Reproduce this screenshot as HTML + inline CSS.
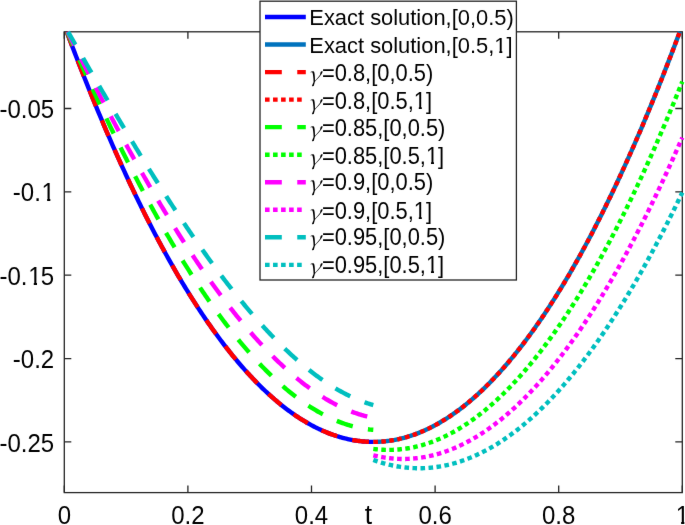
<!DOCTYPE html>
<html><head><meta charset="utf-8"><title>plot</title>
<style>html,body{margin:0;padding:0;background:#fff;}body{width:685px;height:525px;overflow:hidden;}svg{display:block;}</style>
</head><body>
<svg width="685" height="525" viewBox="0 0 685 525">
<defs><filter id="bl" x="0" y="0" width="685" height="525" filterUnits="userSpaceOnUse" color-interpolation-filters="sRGB"><feConvolveMatrix order="3" kernelMatrix="3 59 3 59 1000 59 3 59 3" divisor="1248" edgeMode="duplicate"/></filter></defs>
<g filter="url(#bl)">
<rect width="685" height="525" fill="#fff"/>
<path d="M64.30,492.6 V485.60 M64.30,31.8 V38.80 M187.90,492.6 V485.60 M187.90,31.8 V38.80 M311.50,492.6 V485.60 M311.50,31.8 V38.80 M435.10,492.6 V485.60 M435.10,31.8 V38.80 M558.70,492.6 V485.60 M558.70,31.8 V38.80 M682.30,492.6 V485.60 M682.30,31.8 V38.80 M64.3,108.50 H71.30 M682.3,108.50 H675.30 M64.3,191.85 H71.30 M682.3,191.85 H675.30 M64.3,275.20 H71.30 M682.3,275.20 H675.30 M64.3,358.55 H71.30 M682.3,358.55 H675.30 M64.3,441.90 H71.30 M682.3,441.90 H675.30" stroke="#262626" stroke-width="1.3" fill="none"/>
<rect x="64.3" y="31.8" width="618.0" height="460.8" fill="none" stroke="#262626" stroke-width="1.3"/>
<g fill="none" stroke-width="4.40" stroke-linejoin="round">
<path d="M66.78,31.80 L68.06,35.22 L69.34,38.63 L70.62,42.03 L71.91,45.41 L73.19,48.78 L74.47,52.13 L75.75,55.47 L77.04,58.79 L78.32,62.10 L79.60,65.40 L80.88,68.68 L82.17,71.95 L83.45,75.20 L84.73,78.44 L86.01,81.66 L87.30,84.87 L88.58,88.07 L89.86,91.25 L91.14,94.41 L92.43,97.56 L93.71,100.70 L94.99,103.82 L96.27,106.93 L97.56,110.03 L98.84,113.11 L100.12,116.17 L101.40,119.22 L102.69,122.26 L103.97,125.28 L105.25,128.29 L106.53,131.29 L107.82,134.27 L109.10,137.23 L110.38,140.18 L111.66,143.12 L112.95,146.04 L114.23,148.95 L115.51,151.84 L116.79,154.72 L118.08,157.58 L119.36,160.44 L120.64,163.27 L121.92,166.09 L123.21,168.90 L124.49,171.69 L125.77,174.47 L127.05,177.24 L128.34,179.98 L129.62,182.72 L130.90,185.44 L132.18,188.15 L133.47,190.84 L134.75,193.52 L136.03,196.18 L137.31,198.83 L138.60,201.47 L139.88,204.09 L141.16,206.69 L142.44,209.28 L143.73,211.86 L145.01,214.42 L146.29,216.97 L147.57,219.51 L148.86,222.03 L150.14,224.53 L151.42,227.02 L152.70,229.50 L153.99,231.96 L155.27,234.41 L156.55,236.85 L157.83,239.27 L159.12,241.67 L160.40,244.06 L161.68,246.44 L162.97,248.80 L164.25,251.15 L165.53,253.48 L166.81,255.80 L168.10,258.10 L169.38,260.40 L170.66,262.67 L171.94,264.93 L173.23,267.18 L174.51,269.41 L175.79,271.63 L177.07,273.84 L178.36,276.02 L179.64,278.20 L180.92,280.36 L182.20,282.51 L183.49,284.64 L184.77,286.76 L186.05,288.86 L187.33,290.95 L188.62,293.03 L189.90,295.09 L191.18,297.13 L192.46,299.16 L193.75,301.18 L195.03,303.18 L196.31,305.17 L197.59,307.15 L198.88,309.11 L200.16,311.05 L201.44,312.98 L202.72,314.90 L204.01,316.80 L205.29,318.69 L206.57,320.57 L207.85,322.43 L209.14,324.27 L210.42,326.10 L211.70,327.92 L212.98,329.72 L214.27,331.51 L215.55,333.28 L216.83,335.04 L218.11,336.78 L219.40,338.52 L220.68,340.23 L221.96,341.93 L223.24,343.62 L224.53,345.29 L225.81,346.95 L227.09,348.60 L228.37,350.23 L229.66,351.84 L230.94,353.44 L232.22,355.03 L233.50,356.60 L234.79,358.16 L236.07,359.70 L237.35,361.23 L238.63,362.75 L239.92,364.25 L241.20,365.73 L242.48,367.20 L243.76,368.66 L245.05,370.11 L246.33,371.53 L247.61,372.95 L248.89,374.35 L250.18,375.73 L251.46,377.11 L252.74,378.46 L254.02,379.80 L255.31,381.13 L256.59,382.45 L257.87,383.75 L259.15,385.03 L260.44,386.30 L261.72,387.56 L263.00,388.80 L264.28,390.03 L265.57,391.24 L266.85,392.44 L268.13,393.63 L269.42,394.80 L270.70,395.95 L271.98,397.09 L273.26,398.22 L274.55,399.33 L275.83,400.43 L277.11,401.52 L278.39,402.59 L279.68,403.64 L280.96,404.68 L282.24,405.71 L283.52,406.72 L284.81,407.72 L286.09,408.70 L287.37,409.67 L288.65,410.63 L289.94,411.57 L291.22,412.49 L292.50,413.40 L293.78,414.30 L295.07,415.19 L296.35,416.05 L297.63,416.91 L298.91,417.75 L300.20,418.57 L301.48,419.39 L302.76,420.18 L304.04,420.96 L305.33,421.73 L306.61,422.49 L307.89,423.23 L309.17,423.95 L310.46,424.66 L311.74,425.36 L313.02,426.04 L314.30,426.71 L315.59,427.36 L316.87,428.00 L318.15,428.63 L319.43,429.24 L320.72,429.83 L322.00,430.41 L323.28,430.98 L324.56,431.53 L325.85,432.07 L327.13,432.60 L328.41,433.11 L329.69,433.60 L330.98,434.08 L332.26,434.55 L333.54,435.00 L334.82,435.44 L336.11,435.86 L337.39,436.27 L338.67,436.67 L339.95,437.05 L341.24,437.41 L342.52,437.76 L343.80,438.10 L345.08,438.43 L346.37,438.73 L347.65,439.03 L348.93,439.31 L350.21,439.57 L351.50,439.83 L352.78,440.06 L354.06,440.28 L355.34,440.49 L356.63,440.69 L357.91,440.87 L359.19,441.03 L360.47,441.18 L361.76,441.32 L363.04,441.44 L364.32,441.55 L365.60,441.64 L366.89,441.72 L368.17,441.79 L369.45,441.84 L370.73,441.87 L372.02,441.89 L373.30,441.90" stroke="#0000ff"/>
<path d="M373.30,441.90 L374.58,441.89 L375.87,441.87 L377.15,441.84 L378.43,441.79 L379.71,441.72 L381.00,441.64 L382.28,441.55 L383.56,441.44 L384.84,441.32 L386.13,441.18 L387.41,441.03 L388.69,440.87 L389.97,440.69 L391.26,440.49 L392.54,440.28 L393.82,440.06 L395.10,439.83 L396.39,439.57 L397.67,439.31 L398.95,439.03 L400.23,438.73 L401.52,438.43 L402.80,438.10 L404.08,437.76 L405.36,437.41 L406.65,437.05 L407.93,436.67 L409.21,436.27 L410.49,435.86 L411.78,435.44 L413.06,435.00 L414.34,434.55 L415.62,434.08 L416.91,433.60 L418.19,433.11 L419.47,432.60 L420.75,432.07 L422.04,431.53 L423.32,430.98 L424.60,430.41 L425.88,429.83 L427.17,429.24 L428.45,428.63 L429.73,428.00 L431.01,427.36 L432.30,426.71 L433.58,426.04 L434.86,425.36 L436.14,424.66 L437.43,423.95 L438.71,423.23 L439.99,422.49 L441.27,421.73 L442.56,420.96 L443.84,420.18 L445.12,419.39 L446.40,418.57 L447.69,417.75 L448.97,416.91 L450.25,416.05 L451.53,415.19 L452.82,414.30 L454.10,413.40 L455.38,412.49 L456.66,411.57 L457.95,410.63 L459.23,409.67 L460.51,408.70 L461.79,407.72 L463.08,406.72 L464.36,405.71 L465.64,404.68 L466.92,403.64 L468.21,402.59 L469.49,401.52 L470.77,400.43 L472.05,399.33 L473.34,398.22 L474.62,397.09 L475.90,395.95 L477.18,394.80 L478.47,393.63 L479.75,392.44 L481.03,391.24 L482.32,390.03 L483.60,388.80 L484.88,387.56 L486.16,386.30 L487.45,385.03 L488.73,383.75 L490.01,382.45 L491.29,381.13 L492.58,379.80 L493.86,378.46 L495.14,377.11 L496.42,375.73 L497.71,374.35 L498.99,372.95 L500.27,371.53 L501.55,370.11 L502.84,368.66 L504.12,367.20 L505.40,365.73 L506.68,364.25 L507.97,362.75 L509.25,361.23 L510.53,359.70 L511.81,358.16 L513.10,356.60 L514.38,355.03 L515.66,353.44 L516.94,351.84 L518.23,350.23 L519.51,348.60 L520.79,346.95 L522.07,345.29 L523.36,343.62 L524.64,341.93 L525.92,340.23 L527.20,338.52 L528.49,336.78 L529.77,335.04 L531.05,333.28 L532.33,331.51 L533.62,329.72 L534.90,327.92 L536.18,326.10 L537.46,324.27 L538.75,322.43 L540.03,320.57 L541.31,318.69 L542.59,316.80 L543.88,314.90 L545.16,312.98 L546.44,311.05 L547.72,309.11 L549.01,307.15 L550.29,305.17 L551.57,303.18 L552.85,301.18 L554.14,299.16 L555.42,297.13 L556.70,295.09 L557.98,293.03 L559.27,290.95 L560.55,288.86 L561.83,286.76 L563.11,284.64 L564.40,282.51 L565.68,280.36 L566.96,278.20 L568.24,276.02 L569.53,273.84 L570.81,271.63 L572.09,269.41 L573.37,267.18 L574.66,264.93 L575.94,262.67 L577.22,260.40 L578.50,258.10 L579.79,255.80 L581.07,253.48 L582.35,251.15 L583.63,248.80 L584.92,246.44 L586.20,244.06 L587.48,241.67 L588.77,239.27 L590.05,236.85 L591.33,234.41 L592.61,231.96 L593.90,229.50 L595.18,227.02 L596.46,224.53 L597.74,222.03 L599.03,219.51 L600.31,216.97 L601.59,214.42 L602.87,211.86 L604.16,209.28 L605.44,206.69 L606.72,204.09 L608.00,201.47 L609.29,198.83 L610.57,196.18 L611.85,193.52 L613.13,190.84 L614.42,188.15 L615.70,185.44 L616.98,182.72 L618.26,179.98 L619.55,177.24 L620.83,174.47 L622.11,171.69 L623.39,168.90 L624.68,166.09 L625.96,163.27 L627.24,160.44 L628.52,157.58 L629.81,154.72 L631.09,151.84 L632.37,148.95 L633.65,146.04 L634.94,143.12 L636.22,140.18 L637.50,137.23 L638.78,134.27 L640.07,131.29 L641.35,128.29 L642.63,125.28 L643.91,122.26 L645.20,119.22 L646.48,116.17 L647.76,113.11 L649.04,110.03 L650.33,106.93 L651.61,103.82 L652.89,100.70 L654.17,97.56 L655.46,94.41 L656.74,91.25 L658.02,88.07 L659.30,84.87 L660.59,81.66 L661.87,78.44 L663.15,75.20 L664.43,71.95 L665.72,68.68 L667.00,65.40 L668.28,62.10 L669.56,58.79 L670.85,55.47 L672.13,52.13 L673.41,48.78 L674.69,45.41 L675.98,42.03 L677.26,38.63 L678.54,35.22 L679.82,31.80" stroke="#0072bd"/>
<path d="M66.78,31.80 L68.06,35.22 L69.34,38.63 L70.62,42.03 L71.91,45.41 L73.19,48.78 L74.47,52.13 L75.75,55.47 L77.04,58.79 L78.32,62.10 L79.60,65.40 L80.88,68.68 L82.17,71.95 L83.45,75.20 L84.73,78.44 L86.01,81.66 L87.30,84.87 L88.58,88.07 L89.86,91.25 L91.14,94.41 L92.43,97.56 L93.71,100.70 L94.99,103.82 L96.27,106.93 L97.56,110.03 L98.84,113.11 L100.12,116.17 L101.40,119.22 L102.69,122.26 L103.97,125.28 L105.25,128.29 L106.53,131.29 L107.82,134.27 L109.10,137.23 L110.38,140.18 L111.66,143.12 L112.95,146.04 L114.23,148.95 L115.51,151.84 L116.79,154.72 L118.08,157.58 L119.36,160.44 L120.64,163.27 L121.92,166.09 L123.21,168.90 L124.49,171.69 L125.77,174.47 L127.05,177.24 L128.34,179.98 L129.62,182.72 L130.90,185.44 L132.18,188.15 L133.47,190.84 L134.75,193.52 L136.03,196.18 L137.31,198.83 L138.60,201.47 L139.88,204.09 L141.16,206.69 L142.44,209.28 L143.73,211.86 L145.01,214.42 L146.29,216.97 L147.57,219.51 L148.86,222.03 L150.14,224.53 L151.42,227.02 L152.70,229.50 L153.99,231.96 L155.27,234.41 L156.55,236.85 L157.83,239.27 L159.12,241.67 L160.40,244.06 L161.68,246.44 L162.97,248.80 L164.25,251.15 L165.53,253.48 L166.81,255.80 L168.10,258.10 L169.38,260.40 L170.66,262.67 L171.94,264.93 L173.23,267.18 L174.51,269.41 L175.79,271.63 L177.07,273.84 L178.36,276.02 L179.64,278.20 L180.92,280.36 L182.20,282.51 L183.49,284.64 L184.77,286.76 L186.05,288.86 L187.33,290.95 L188.62,293.03 L189.90,295.09 L191.18,297.13 L192.46,299.16 L193.75,301.18 L195.03,303.18 L196.31,305.17 L197.59,307.15 L198.88,309.11 L200.16,311.05 L201.44,312.98 L202.72,314.90 L204.01,316.80 L205.29,318.69 L206.57,320.57 L207.85,322.43 L209.14,324.27 L210.42,326.10 L211.70,327.92 L212.98,329.72 L214.27,331.51 L215.55,333.28 L216.83,335.04 L218.11,336.78 L219.40,338.52 L220.68,340.23 L221.96,341.93 L223.24,343.62 L224.53,345.29 L225.81,346.95 L227.09,348.60 L228.37,350.23 L229.66,351.84 L230.94,353.44 L232.22,355.03 L233.50,356.60 L234.79,358.16 L236.07,359.70 L237.35,361.23 L238.63,362.75 L239.92,364.25 L241.20,365.73 L242.48,367.20 L243.76,368.66 L245.05,370.11 L246.33,371.53 L247.61,372.95 L248.89,374.35 L250.18,375.73 L251.46,377.11 L252.74,378.46 L254.02,379.80 L255.31,381.13 L256.59,382.45 L257.87,383.75 L259.15,385.03 L260.44,386.30 L261.72,387.56 L263.00,388.80 L264.28,390.03 L265.57,391.24 L266.85,392.44 L268.13,393.63 L269.42,394.80 L270.70,395.95 L271.98,397.09 L273.26,398.22 L274.55,399.33 L275.83,400.43 L277.11,401.52 L278.39,402.59 L279.68,403.64 L280.96,404.68 L282.24,405.71 L283.52,406.72 L284.81,407.72 L286.09,408.70 L287.37,409.67 L288.65,410.63 L289.94,411.57 L291.22,412.49 L292.50,413.40 L293.78,414.30 L295.07,415.19 L296.35,416.05 L297.63,416.91 L298.91,417.75 L300.20,418.57 L301.48,419.39 L302.76,420.18 L304.04,420.96 L305.33,421.73 L306.61,422.49 L307.89,423.23 L309.17,423.95 L310.46,424.66 L311.74,425.36 L313.02,426.04 L314.30,426.71 L315.59,427.36 L316.87,428.00 L318.15,428.63 L319.43,429.24 L320.72,429.83 L322.00,430.41 L323.28,430.98 L324.56,431.53 L325.85,432.07 L327.13,432.60 L328.41,433.11 L329.69,433.60 L330.98,434.08 L332.26,434.55 L333.54,435.00 L334.82,435.44 L336.11,435.86 L337.39,436.27 L338.67,436.67 L339.95,437.05 L341.24,437.41 L342.52,437.76 L343.80,438.10 L345.08,438.43 L346.37,438.73 L347.65,439.03 L348.93,439.31 L350.21,439.57 L351.50,439.83 L352.78,440.06 L354.06,440.28 L355.34,440.49 L356.63,440.69 L357.91,440.87 L359.19,441.03 L360.47,441.18 L361.76,441.32 L363.04,441.44 L364.32,441.55 L365.60,441.64 L366.89,441.72 L368.17,441.79 L369.45,441.84 L370.73,441.87 L372.02,441.89 L373.30,441.90" stroke="#ff0000" stroke-dasharray="16.8 15.46" stroke-dashoffset="33.81"/>
<path d="M373.30,441.90 L374.58,441.89 L375.87,441.87 L377.15,441.84 L378.43,441.79 L379.71,441.72 L381.00,441.64 L382.28,441.55 L383.56,441.44 L384.84,441.32 L386.13,441.18 L387.41,441.03 L388.69,440.87 L389.97,440.69 L391.26,440.49 L392.54,440.28 L393.82,440.06 L395.10,439.83 L396.39,439.57 L397.67,439.31 L398.95,439.03 L400.23,438.73 L401.52,438.43 L402.80,438.10 L404.08,437.76 L405.36,437.41 L406.65,437.05 L407.93,436.67 L409.21,436.27 L410.49,435.86 L411.78,435.44 L413.06,435.00 L414.34,434.55 L415.62,434.08 L416.91,433.60 L418.19,433.11 L419.47,432.60 L420.75,432.07 L422.04,431.53 L423.32,430.98 L424.60,430.41 L425.88,429.83 L427.17,429.24 L428.45,428.63 L429.73,428.00 L431.01,427.36 L432.30,426.71 L433.58,426.04 L434.86,425.36 L436.14,424.66 L437.43,423.95 L438.71,423.23 L439.99,422.49 L441.27,421.73 L442.56,420.96 L443.84,420.18 L445.12,419.39 L446.40,418.57 L447.69,417.75 L448.97,416.91 L450.25,416.05 L451.53,415.19 L452.82,414.30 L454.10,413.40 L455.38,412.49 L456.66,411.57 L457.95,410.63 L459.23,409.67 L460.51,408.70 L461.79,407.72 L463.08,406.72 L464.36,405.71 L465.64,404.68 L466.92,403.64 L468.21,402.59 L469.49,401.52 L470.77,400.43 L472.05,399.33 L473.34,398.22 L474.62,397.09 L475.90,395.95 L477.18,394.80 L478.47,393.63 L479.75,392.44 L481.03,391.24 L482.32,390.03 L483.60,388.80 L484.88,387.56 L486.16,386.30 L487.45,385.03 L488.73,383.75 L490.01,382.45 L491.29,381.13 L492.58,379.80 L493.86,378.46 L495.14,377.11 L496.42,375.73 L497.71,374.35 L498.99,372.95 L500.27,371.53 L501.55,370.11 L502.84,368.66 L504.12,367.20 L505.40,365.73 L506.68,364.25 L507.97,362.75 L509.25,361.23 L510.53,359.70 L511.81,358.16 L513.10,356.60 L514.38,355.03 L515.66,353.44 L516.94,351.84 L518.23,350.23 L519.51,348.60 L520.79,346.95 L522.07,345.29 L523.36,343.62 L524.64,341.93 L525.92,340.23 L527.20,338.52 L528.49,336.78 L529.77,335.04 L531.05,333.28 L532.33,331.51 L533.62,329.72 L534.90,327.92 L536.18,326.10 L537.46,324.27 L538.75,322.43 L540.03,320.57 L541.31,318.69 L542.59,316.80 L543.88,314.90 L545.16,312.98 L546.44,311.05 L547.72,309.11 L549.01,307.15 L550.29,305.17 L551.57,303.18 L552.85,301.18 L554.14,299.16 L555.42,297.13 L556.70,295.09 L557.98,293.03 L559.27,290.95 L560.55,288.86 L561.83,286.76 L563.11,284.64 L564.40,282.51 L565.68,280.36 L566.96,278.20 L568.24,276.02 L569.53,273.84 L570.81,271.63 L572.09,269.41 L573.37,267.18 L574.66,264.93 L575.94,262.67 L577.22,260.40 L578.50,258.10 L579.79,255.80 L581.07,253.48 L582.35,251.15 L583.63,248.80 L584.92,246.44 L586.20,244.06 L587.48,241.67 L588.77,239.27 L590.05,236.85 L591.33,234.41 L592.61,231.96 L593.90,229.50 L595.18,227.02 L596.46,224.53 L597.74,222.03 L599.03,219.51 L600.31,216.97 L601.59,214.42 L602.87,211.86 L604.16,209.28 L605.44,206.69 L606.72,204.09 L608.00,201.47 L609.29,198.83 L610.57,196.18 L611.85,193.52 L613.13,190.84 L614.42,188.15 L615.70,185.44 L616.98,182.72 L618.26,179.98 L619.55,177.24 L620.83,174.47 L622.11,171.69 L623.39,168.90 L624.68,166.09 L625.96,163.27 L627.24,160.44 L628.52,157.58 L629.81,154.72 L631.09,151.84 L632.37,148.95 L633.65,146.04 L634.94,143.12 L636.22,140.18 L637.50,137.23 L638.78,134.27 L640.07,131.29 L641.35,128.29 L642.63,125.28 L643.91,122.26 L645.20,119.22 L646.48,116.17 L647.76,113.11 L649.04,110.03 L650.33,106.93 L651.61,103.82 L652.89,100.70 L654.17,97.56 L655.46,94.41 L656.74,91.25 L658.02,88.07 L659.30,84.87 L660.59,81.66 L661.87,78.44 L663.15,75.20 L664.43,71.95 L665.72,68.68 L667.00,65.40 L668.28,62.10 L669.56,58.79 L670.85,55.47 L672.13,52.13 L673.41,48.78 L674.69,45.41 L675.98,42.03 L677.26,38.63 L678.54,35.22 L679.82,31.80" stroke="#ff0000" stroke-dasharray="4.6 3.43"/>
<path d="M67.16,31.80 L68.44,34.76 L69.73,37.71 L71.01,40.66 L72.29,43.59 L73.57,46.52 L74.85,49.43 L76.13,52.34 L77.41,55.24 L78.69,58.13 L79.97,61.01 L81.25,63.88 L82.53,66.75 L83.82,69.60 L85.10,72.45 L86.38,75.29 L87.66,78.11 L88.94,80.93 L90.22,83.74 L91.50,86.54 L92.78,89.33 L94.06,92.11 L95.34,94.89 L96.62,97.65 L97.91,100.40 L99.19,103.15 L100.47,105.88 L101.75,108.61 L103.03,111.33 L104.31,114.03 L105.59,116.73 L106.87,119.42 L108.15,122.10 L109.43,124.77 L110.71,127.43 L112.00,130.08 L113.28,132.72 L114.56,135.35 L115.84,137.97 L117.12,140.58 L118.40,143.18 L119.68,145.77 L120.96,148.35 L122.24,150.93 L123.52,153.49 L124.80,156.04 L126.09,158.58 L127.37,161.12 L128.65,163.64 L129.93,166.15 L131.21,168.65 L132.49,171.15 L133.77,173.63 L135.05,176.10 L136.33,178.56 L137.61,181.01 L138.89,183.46 L140.18,185.89 L141.46,188.31 L142.74,190.72 L144.02,193.12 L145.30,195.51 L146.58,197.89 L147.86,200.26 L149.14,202.62 L150.42,204.97 L151.70,207.31 L152.98,209.64 L154.27,211.95 L155.55,214.26 L156.83,216.56 L158.11,218.84 L159.39,221.12 L160.67,223.38 L161.95,225.64 L163.23,227.88 L164.51,230.11 L165.79,232.33 L167.07,234.54 L168.36,236.74 L169.64,238.93 L170.92,241.11 L172.20,243.28 L173.48,245.43 L174.76,247.58 L176.04,249.71 L177.32,251.84 L178.60,253.95 L179.88,256.05 L181.16,258.14 L182.45,260.22 L183.73,262.29 L185.01,264.34 L186.29,266.39 L187.57,268.42 L188.85,270.45 L190.13,272.46 L191.41,274.46 L192.69,276.45 L193.97,278.42 L195.25,280.39 L196.54,282.35 L197.82,284.29 L199.10,286.22 L200.38,288.14 L201.66,290.05 L202.94,291.95 L204.22,293.83 L205.50,295.70 L206.78,297.57 L208.06,299.42 L209.34,301.26 L210.63,303.08 L211.91,304.90 L213.19,306.70 L214.47,308.49 L215.75,310.27 L217.03,312.04 L218.31,313.80 L219.59,315.54 L220.87,317.27 L222.15,318.99 L223.43,320.70 L224.71,322.39 L226.00,324.08 L227.28,325.75 L228.56,327.41 L229.84,329.06 L231.12,330.69 L232.40,332.31 L233.68,333.92 L234.96,335.52 L236.24,337.11 L237.52,338.68 L238.80,340.24 L240.09,341.79 L241.37,343.33 L242.65,344.85 L243.93,346.36 L245.21,347.86 L246.49,349.35 L247.77,350.82 L249.05,352.29 L250.33,353.73 L251.61,355.17 L252.89,356.59 L254.18,358.00 L255.46,359.40 L256.74,360.79 L258.02,362.16 L259.30,363.52 L260.58,364.87 L261.86,366.20 L263.14,367.52 L264.42,368.83 L265.70,370.12 L266.98,371.41 L268.27,372.68 L269.55,373.93 L270.83,375.17 L272.11,376.40 L273.39,377.62 L274.67,378.83 L275.95,380.02 L277.23,381.19 L278.51,382.36 L279.79,383.51 L281.07,384.65 L282.36,385.77 L283.64,386.88 L284.92,387.98 L286.20,389.06 L287.48,390.13 L288.76,391.19 L290.04,392.23 L291.32,393.26 L292.60,394.28 L293.88,395.28 L295.16,396.27 L296.45,397.25 L297.73,398.21 L299.01,399.16 L300.29,400.09 L301.57,401.02 L302.85,401.92 L304.13,402.82 L305.41,403.70 L306.69,404.56 L307.97,405.41 L309.25,406.25 L310.54,407.08 L311.82,407.89 L313.10,408.68 L314.38,409.47 L315.66,410.23 L316.94,410.99 L318.22,411.73 L319.50,412.45 L320.78,413.17 L322.06,413.86 L323.34,414.55 L324.63,415.22 L325.91,415.87 L327.19,416.51 L328.47,417.14 L329.75,417.75 L331.03,418.35 L332.31,418.93 L333.59,419.50 L334.87,420.05 L336.15,420.59 L337.43,421.12 L338.72,421.63 L340.00,422.12 L341.28,422.60 L342.56,423.07 L343.84,423.52 L345.12,423.96 L346.40,424.38 L347.68,424.79 L348.96,425.19 L350.24,425.56 L351.52,425.93 L352.81,426.28 L354.09,426.61 L355.37,426.93 L356.65,427.23 L357.93,427.52 L359.21,427.80 L360.49,428.06 L361.77,428.30 L363.05,428.53 L364.33,428.74 L365.61,428.94 L366.90,429.12 L368.18,429.29 L369.46,429.45 L370.74,429.58 L372.02,429.71 L373.30,429.81" stroke="#00ff00" stroke-dasharray="16.8 15.46" stroke-dashoffset="33.95"/>
<path d="M373.30,448.90 L374.59,449.06 L375.89,449.21 L377.18,449.35 L378.47,449.47 L379.76,449.57 L381.06,449.66 L382.35,449.74 L383.64,449.80 L384.94,449.85 L386.23,449.88 L387.52,449.90 L388.81,449.91 L390.11,449.90 L391.40,449.88 L392.69,449.84 L393.99,449.79 L395.28,449.72 L396.57,449.64 L397.86,449.54 L399.16,449.44 L400.45,449.31 L401.74,449.18 L403.04,449.02 L404.33,448.86 L405.62,448.68 L406.92,448.48 L408.21,448.27 L409.50,448.05 L410.79,447.81 L412.09,447.56 L413.38,447.30 L414.67,447.02 L415.97,446.72 L417.26,446.41 L418.55,446.09 L419.84,445.75 L421.14,445.40 L422.43,445.03 L423.72,444.65 L425.02,444.26 L426.31,443.85 L427.60,443.43 L428.89,442.99 L430.19,442.54 L431.48,442.07 L432.77,441.59 L434.07,441.10 L435.36,440.59 L436.65,440.07 L437.94,439.53 L439.24,438.98 L440.53,438.41 L441.82,437.83 L443.12,437.24 L444.41,436.63 L445.70,436.01 L446.99,435.37 L448.29,434.72 L449.58,434.05 L450.87,433.37 L452.17,432.68 L453.46,431.97 L454.75,431.25 L456.04,430.51 L457.34,429.76 L458.63,428.99 L459.92,428.21 L461.22,427.42 L462.51,426.61 L463.80,425.79 L465.09,424.95 L466.39,424.10 L467.68,423.23 L468.97,422.35 L470.27,421.46 L471.56,420.55 L472.85,419.63 L474.15,418.69 L475.44,417.74 L476.73,416.78 L478.02,415.80 L479.32,414.80 L480.61,413.79 L481.90,412.77 L483.20,411.73 L484.49,410.68 L485.78,409.62 L487.07,408.54 L488.37,407.44 L489.66,406.34 L490.95,405.21 L492.25,404.08 L493.54,402.92 L494.83,401.76 L496.12,400.58 L497.42,399.39 L498.71,398.18 L500.00,396.95 L501.30,395.72 L502.59,394.47 L503.88,393.20 L505.17,391.92 L506.47,390.63 L507.76,389.32 L509.05,388.00 L510.35,386.66 L511.64,385.31 L512.93,383.94 L514.22,382.57 L515.52,381.17 L516.81,379.76 L518.10,378.34 L519.40,376.90 L520.69,375.45 L521.98,373.99 L523.27,372.51 L524.57,371.02 L525.86,369.51 L527.15,367.98 L528.45,366.45 L529.74,364.90 L531.03,363.33 L532.33,361.75 L533.62,360.16 L534.91,358.55 L536.20,356.93 L537.50,355.29 L538.79,353.64 L540.08,351.98 L541.38,350.30 L542.67,348.60 L543.96,346.90 L545.25,345.17 L546.55,343.44 L547.84,341.69 L549.13,339.92 L550.43,338.14 L551.72,336.35 L553.01,334.54 L554.30,332.72 L555.60,330.88 L556.89,329.03 L558.18,327.17 L559.48,325.29 L560.77,323.39 L562.06,321.49 L563.35,319.56 L564.65,317.63 L565.94,315.68 L567.23,313.71 L568.53,311.73 L569.82,309.74 L571.11,307.73 L572.40,305.71 L573.70,303.67 L574.99,301.62 L576.28,299.56 L577.58,297.48 L578.87,295.39 L580.16,293.28 L581.45,291.16 L582.75,289.02 L584.04,286.87 L585.33,284.71 L586.63,282.53 L587.92,280.33 L589.21,278.13 L590.51,275.90 L591.80,273.67 L593.09,271.42 L594.38,269.15 L595.68,266.87 L596.97,264.58 L598.26,262.27 L599.56,259.95 L600.85,257.61 L602.14,255.26 L603.43,252.90 L604.73,250.52 L606.02,248.13 L607.31,245.72 L608.61,243.30 L609.90,240.86 L611.19,238.41 L612.48,235.95 L613.78,233.47 L615.07,230.98 L616.36,228.47 L617.66,225.95 L618.95,223.41 L620.24,220.86 L621.53,218.30 L622.83,215.72 L624.12,213.12 L625.41,210.52 L626.71,207.90 L628.00,205.26 L629.29,202.61 L630.58,199.95 L631.88,197.27 L633.17,194.57 L634.46,191.87 L635.76,189.14 L637.05,186.41 L638.34,183.66 L639.63,180.89 L640.93,178.12 L642.22,175.32 L643.51,172.52 L644.81,169.69 L646.10,166.86 L647.39,164.01 L648.68,161.14 L649.98,158.27 L651.27,155.37 L652.56,152.47 L653.86,149.54 L655.15,146.61 L656.44,143.66 L657.74,140.69 L659.03,137.72 L660.32,134.72 L661.61,131.72 L662.91,128.69 L664.20,125.66 L665.49,122.61 L666.79,119.54 L668.08,116.47 L669.37,113.37 L670.66,110.27 L671.96,107.15 L673.25,104.01 L674.54,100.86 L675.84,97.70 L677.13,94.52 L678.42,91.32 L679.71,88.12 L681.01,84.90 L682.30,81.66" stroke="#00ff00" stroke-dasharray="4.6 3.43"/>
<path d="M67.58,31.80 L68.85,34.39 L70.13,36.97 L71.41,39.55 L72.69,42.12 L73.97,44.69 L75.25,47.26 L76.53,49.81 L77.81,52.37 L79.09,54.91 L80.37,57.46 L81.65,59.99 L82.93,62.53 L84.21,65.05 L85.48,67.57 L86.76,70.09 L88.04,72.60 L89.32,75.10 L90.60,77.60 L91.88,80.10 L93.16,82.59 L94.44,85.07 L95.72,87.54 L97.00,90.01 L98.28,92.48 L99.56,94.94 L100.83,97.39 L102.11,99.84 L103.39,102.28 L104.67,104.71 L105.95,107.14 L107.23,109.57 L108.51,111.98 L109.79,114.39 L111.07,116.80 L112.35,119.20 L113.63,121.59 L114.91,123.97 L116.18,126.35 L117.46,128.73 L118.74,131.09 L120.02,133.45 L121.30,135.80 L122.58,138.15 L123.86,140.49 L125.14,142.82 L126.42,145.15 L127.70,147.47 L128.98,149.78 L130.26,152.09 L131.53,154.39 L132.81,156.68 L134.09,158.96 L135.37,161.24 L136.65,163.51 L137.93,165.78 L139.21,168.03 L140.49,170.28 L141.77,172.53 L143.05,174.76 L144.33,176.99 L145.61,179.21 L146.88,181.42 L148.16,183.63 L149.44,185.83 L150.72,188.02 L152.00,190.20 L153.28,192.38 L154.56,194.54 L155.84,196.70 L157.12,198.86 L158.40,201.00 L159.68,203.14 L160.96,205.27 L162.24,207.39 L163.51,209.50 L164.79,211.61 L166.07,213.70 L167.35,215.79 L168.63,217.88 L169.91,219.95 L171.19,222.01 L172.47,224.07 L173.75,226.12 L175.03,228.16 L176.31,230.19 L177.59,232.21 L178.86,234.23 L180.14,236.23 L181.42,238.23 L182.70,240.22 L183.98,242.20 L185.26,244.18 L186.54,246.14 L187.82,248.09 L189.10,250.04 L190.38,251.98 L191.66,253.91 L192.94,255.82 L194.21,257.74 L195.49,259.64 L196.77,261.53 L198.05,263.41 L199.33,265.29 L200.61,267.15 L201.89,269.01 L203.17,270.86 L204.45,272.69 L205.73,274.52 L207.01,276.34 L208.29,278.15 L209.56,279.95 L210.84,281.74 L212.12,283.52 L213.40,285.30 L214.68,287.06 L215.96,288.81 L217.24,290.55 L218.52,292.29 L219.80,294.01 L221.08,295.73 L222.36,297.43 L223.64,299.12 L224.91,300.81 L226.19,302.48 L227.47,304.15 L228.75,305.80 L230.03,307.44 L231.31,309.08 L232.59,310.70 L233.87,312.32 L235.15,313.92 L236.43,315.51 L237.71,317.09 L238.99,318.67 L240.27,320.23 L241.54,321.78 L242.82,323.32 L244.10,324.85 L245.38,326.37 L246.66,327.88 L247.94,329.38 L249.22,330.87 L250.50,332.35 L251.78,333.81 L253.06,335.27 L254.34,336.71 L255.62,338.15 L256.89,339.57 L258.17,340.98 L259.45,342.38 L260.73,343.77 L262.01,345.15 L263.29,346.52 L264.57,347.88 L265.85,349.22 L267.13,350.56 L268.41,351.88 L269.69,353.19 L270.97,354.49 L272.24,355.78 L273.52,357.05 L274.80,358.32 L276.08,359.57 L277.36,360.82 L278.64,362.05 L279.92,363.27 L281.20,364.47 L282.48,365.67 L283.76,366.85 L285.04,368.02 L286.32,369.18 L287.59,370.33 L288.87,371.47 L290.15,372.59 L291.43,373.70 L292.71,374.80 L293.99,375.89 L295.27,376.97 L296.55,378.03 L297.83,379.08 L299.11,380.12 L300.39,381.15 L301.67,382.16 L302.95,383.16 L304.22,384.15 L305.50,385.13 L306.78,386.09 L308.06,387.04 L309.34,387.98 L310.62,388.91 L311.90,389.82 L313.18,390.72 L314.46,391.61 L315.74,392.48 L317.02,393.35 L318.30,394.20 L319.57,395.03 L320.85,395.86 L322.13,396.67 L323.41,397.46 L324.69,398.25 L325.97,399.02 L327.25,399.77 L328.53,400.52 L329.81,401.25 L331.09,401.97 L332.37,402.67 L333.65,403.36 L334.92,404.04 L336.20,404.70 L337.48,405.35 L338.76,405.99 L340.04,406.61 L341.32,407.22 L342.60,407.82 L343.88,408.40 L345.16,408.97 L346.44,409.52 L347.72,410.06 L349.00,410.59 L350.27,411.10 L351.55,411.60 L352.83,412.09 L354.11,412.56 L355.39,413.01 L356.67,413.45 L357.95,413.88 L359.23,414.30 L360.51,414.70 L361.79,415.08 L363.07,415.45 L364.35,415.81 L365.62,416.15 L366.90,416.48 L368.18,416.79 L369.46,417.09 L370.74,417.37 L372.02,417.64 L373.30,417.90" stroke="#ff00ff" stroke-dasharray="16.8 15.46" stroke-dashoffset="34.12"/>
<path d="M373.30,455.32 L374.59,455.63 L375.89,455.93 L377.18,456.21 L378.47,456.48 L379.76,456.73 L381.06,456.97 L382.35,457.20 L383.64,457.41 L384.94,457.61 L386.23,457.80 L387.52,457.97 L388.81,458.13 L390.11,458.28 L391.40,458.41 L392.69,458.52 L393.99,458.63 L395.28,458.72 L396.57,458.79 L397.86,458.86 L399.16,458.90 L400.45,458.94 L401.74,458.96 L403.04,458.97 L404.33,458.96 L405.62,458.94 L406.92,458.90 L408.21,458.86 L409.50,458.79 L410.79,458.72 L412.09,458.63 L413.38,458.53 L414.67,458.41 L415.97,458.28 L417.26,458.13 L418.55,457.97 L419.84,457.80 L421.14,457.62 L422.43,457.42 L423.72,457.20 L425.02,456.98 L426.31,456.73 L427.60,456.48 L428.89,456.21 L430.19,455.93 L431.48,455.63 L432.77,455.32 L434.07,455.00 L435.36,454.66 L436.65,454.31 L437.94,453.94 L439.24,453.57 L440.53,453.17 L441.82,452.77 L443.12,452.35 L444.41,451.91 L445.70,451.46 L446.99,451.00 L448.29,450.53 L449.58,450.04 L450.87,449.53 L452.17,449.02 L453.46,448.49 L454.75,447.94 L456.04,447.39 L457.34,446.81 L458.63,446.23 L459.92,445.63 L461.22,445.02 L462.51,444.39 L463.80,443.75 L465.09,443.09 L466.39,442.42 L467.68,441.74 L468.97,441.05 L470.27,440.34 L471.56,439.61 L472.85,438.88 L474.15,438.13 L475.44,437.36 L476.73,436.58 L478.02,435.79 L479.32,434.98 L480.61,434.16 L481.90,433.33 L483.20,432.48 L484.49,431.62 L485.78,430.75 L487.07,429.86 L488.37,428.96 L489.66,428.04 L490.95,427.11 L492.25,426.16 L493.54,425.21 L494.83,424.24 L496.12,423.25 L497.42,422.25 L498.71,421.24 L500.00,420.21 L501.30,419.17 L502.59,418.12 L503.88,417.05 L505.17,415.97 L506.47,414.87 L507.76,413.76 L509.05,412.64 L510.35,411.50 L511.64,410.35 L512.93,409.19 L514.22,408.01 L515.52,406.82 L516.81,405.61 L518.10,404.39 L519.40,403.16 L520.69,401.91 L521.98,400.65 L523.27,399.38 L524.57,398.09 L525.86,396.79 L527.15,395.47 L528.45,394.14 L529.74,392.80 L531.03,391.44 L532.33,390.07 L533.62,388.68 L534.91,387.29 L536.20,385.87 L537.50,384.45 L538.79,383.01 L540.08,381.55 L541.38,380.09 L542.67,378.60 L543.96,377.11 L545.25,375.60 L546.55,374.08 L547.84,372.54 L549.13,370.99 L550.43,369.43 L551.72,367.85 L553.01,366.26 L554.30,364.65 L555.60,363.03 L556.89,361.40 L558.18,359.75 L559.48,358.09 L560.77,356.42 L562.06,354.73 L563.35,353.03 L564.65,351.31 L565.94,349.58 L567.23,347.84 L568.53,346.08 L569.82,344.31 L571.11,342.53 L572.40,340.73 L573.70,338.92 L574.99,337.09 L576.28,335.25 L577.58,333.40 L578.87,331.53 L580.16,329.65 L581.45,327.76 L582.75,325.85 L584.04,323.92 L585.33,321.99 L586.63,320.04 L587.92,318.07 L589.21,316.10 L590.51,314.11 L591.80,312.10 L593.09,310.08 L594.38,308.05 L595.68,306.00 L596.97,303.94 L598.26,301.87 L599.56,299.78 L600.85,297.68 L602.14,295.56 L603.43,293.44 L604.73,291.29 L606.02,289.14 L607.31,286.97 L608.61,284.78 L609.90,282.58 L611.19,280.37 L612.48,278.15 L613.78,275.91 L615.07,273.65 L616.36,271.39 L617.66,269.11 L618.95,266.81 L620.24,264.50 L621.53,262.18 L622.83,259.85 L624.12,257.50 L625.41,255.13 L626.71,252.76 L628.00,250.37 L629.29,247.96 L630.58,245.54 L631.88,243.11 L633.17,240.66 L634.46,238.20 L635.76,235.73 L637.05,233.24 L638.34,230.74 L639.63,228.23 L640.93,225.70 L642.22,223.16 L643.51,220.60 L644.81,218.03 L646.10,215.45 L647.39,212.85 L648.68,210.24 L649.98,207.61 L651.27,204.97 L652.56,202.32 L653.86,199.65 L655.15,196.97 L656.44,194.28 L657.74,191.57 L659.03,188.85 L660.32,186.12 L661.61,183.37 L662.91,180.60 L664.20,177.83 L665.49,175.04 L666.79,172.23 L668.08,169.41 L669.37,166.58 L670.66,163.74 L671.96,160.88 L673.25,158.00 L674.54,155.12 L675.84,152.22 L677.13,149.30 L678.42,146.37 L679.71,143.43 L681.01,140.48 L682.30,137.51" stroke="#ff00ff" stroke-dasharray="4.6 3.43"/>
<path d="M68.08,31.80 L69.36,34.05 L70.63,36.29 L71.91,38.53 L73.19,40.77 L74.46,43.01 L75.74,45.25 L77.02,47.49 L78.29,49.72 L79.57,51.95 L80.85,54.18 L82.13,56.41 L83.40,58.64 L84.68,60.86 L85.96,63.08 L87.23,65.31 L88.51,67.52 L89.79,69.74 L91.07,71.95 L92.34,74.16 L93.62,76.37 L94.90,78.58 L96.17,80.78 L97.45,82.99 L98.73,85.18 L100.00,87.38 L101.28,89.57 L102.56,91.76 L103.84,93.95 L105.11,96.14 L106.39,98.32 L107.67,100.50 L108.94,102.67 L110.22,104.85 L111.50,107.01 L112.78,109.18 L114.05,111.34 L115.33,113.50 L116.61,115.66 L117.88,117.81 L119.16,119.96 L120.44,122.11 L121.72,124.25 L122.99,126.39 L124.27,128.52 L125.55,130.65 L126.82,132.78 L128.10,134.90 L129.38,137.02 L130.65,139.14 L131.93,141.25 L133.21,143.36 L134.49,145.46 L135.76,147.56 L137.04,149.65 L138.32,151.74 L139.59,153.83 L140.87,155.91 L142.15,157.99 L143.43,160.06 L144.70,162.13 L145.98,164.19 L147.26,166.25 L148.53,168.30 L149.81,170.35 L151.09,172.40 L152.37,174.43 L153.64,176.47 L154.92,178.50 L156.20,180.52 L157.47,182.54 L158.75,184.55 L160.03,186.56 L161.30,188.57 L162.58,190.56 L163.86,192.56 L165.14,194.54 L166.41,196.52 L167.69,198.50 L168.97,200.47 L170.24,202.43 L171.52,204.39 L172.80,206.34 L174.08,208.29 L175.35,210.23 L176.63,212.17 L177.91,214.10 L179.18,216.02 L180.46,217.94 L181.74,219.85 L183.02,221.75 L184.29,223.65 L185.57,225.54 L186.85,227.43 L188.12,229.31 L189.40,231.18 L190.68,233.04 L191.95,234.90 L193.23,236.76 L194.51,238.60 L195.79,240.44 L197.06,242.27 L198.34,244.10 L199.62,245.92 L200.89,247.73 L202.17,249.53 L203.45,251.33 L204.73,253.12 L206.00,254.90 L207.28,256.68 L208.56,258.45 L209.83,260.21 L211.11,261.96 L212.39,263.71 L213.67,265.44 L214.94,267.17 L216.22,268.90 L217.50,270.61 L218.77,272.32 L220.05,274.02 L221.33,275.71 L222.60,277.40 L223.88,279.07 L225.16,280.74 L226.44,282.40 L227.71,284.05 L228.99,285.69 L230.27,287.33 L231.54,288.96 L232.82,290.57 L234.10,292.18 L235.38,293.79 L236.65,295.38 L237.93,296.96 L239.21,298.54 L240.48,300.11 L241.76,301.66 L243.04,303.21 L244.31,304.75 L245.59,306.29 L246.87,307.81 L248.15,309.32 L249.42,310.83 L250.70,312.32 L251.98,313.81 L253.25,315.29 L254.53,316.75 L255.81,318.21 L257.09,319.66 L258.36,321.10 L259.64,322.53 L260.92,323.95 L262.19,325.36 L263.47,326.76 L264.75,328.15 L266.03,329.54 L267.30,330.91 L268.58,332.27 L269.86,333.62 L271.13,334.96 L272.41,336.29 L273.69,337.62 L274.96,338.93 L276.24,340.23 L277.52,341.52 L278.80,342.80 L280.07,344.07 L281.35,345.33 L282.63,346.58 L283.90,347.82 L285.18,349.05 L286.46,350.26 L287.74,351.47 L289.01,352.67 L290.29,353.85 L291.57,355.03 L292.84,356.19 L294.12,357.34 L295.40,358.48 L296.68,359.61 L297.95,360.73 L299.23,361.84 L300.51,362.94 L301.78,364.02 L303.06,365.09 L304.34,366.16 L305.61,367.21 L306.89,368.25 L308.17,369.27 L309.45,370.29 L310.72,371.29 L312.00,372.29 L313.28,373.27 L314.55,374.24 L315.83,375.19 L317.11,376.14 L318.39,377.07 L319.66,377.99 L320.94,378.90 L322.22,379.80 L323.49,380.68 L324.77,381.55 L326.05,382.41 L327.33,383.26 L328.60,384.09 L329.88,384.92 L331.16,385.72 L332.43,386.52 L333.71,387.31 L334.99,388.08 L336.26,388.84 L337.54,389.58 L338.82,390.31 L340.10,391.03 L341.37,391.74 L342.65,392.43 L343.93,393.12 L345.20,393.78 L346.48,394.44 L347.76,395.08 L349.04,395.70 L350.31,396.32 L351.59,396.92 L352.87,397.51 L354.14,398.08 L355.42,398.64 L356.70,399.19 L357.98,399.72 L359.25,400.24 L360.53,400.74 L361.81,401.23 L363.08,401.71 L364.36,402.17 L365.64,402.62 L366.91,403.06 L368.19,403.48 L369.47,403.88 L370.75,404.28 L372.02,404.65 L373.30,405.02" stroke="#00bfbf" stroke-dasharray="16.8 15.46" stroke-dashoffset="34.36"/>
<path d="M373.30,459.95 L374.59,460.41 L375.89,460.86 L377.18,461.29 L378.47,461.72 L379.76,462.13 L381.06,462.52 L382.35,462.91 L383.64,463.28 L384.94,463.63 L386.23,463.97 L387.52,464.30 L388.81,464.62 L390.11,464.92 L391.40,465.21 L392.69,465.49 L393.99,465.75 L395.28,466.00 L396.57,466.24 L397.86,466.46 L399.16,466.68 L400.45,466.87 L401.74,467.06 L403.04,467.23 L404.33,467.38 L405.62,467.53 L406.92,467.66 L408.21,467.77 L409.50,467.88 L410.79,467.97 L412.09,468.05 L413.38,468.11 L414.67,468.16 L415.97,468.20 L417.26,468.22 L418.55,468.23 L419.84,468.23 L421.14,468.22 L422.43,468.19 L423.72,468.14 L425.02,468.09 L426.31,468.02 L427.60,467.94 L428.89,467.84 L430.19,467.73 L431.48,467.61 L432.77,467.48 L434.07,467.33 L435.36,467.16 L436.65,466.99 L437.94,466.80 L439.24,466.60 L440.53,466.38 L441.82,466.16 L443.12,465.91 L444.41,465.66 L445.70,465.39 L446.99,465.11 L448.29,464.81 L449.58,464.51 L450.87,464.18 L452.17,463.85 L453.46,463.50 L454.75,463.14 L456.04,462.77 L457.34,462.38 L458.63,461.98 L459.92,461.56 L461.22,461.13 L462.51,460.69 L463.80,460.24 L465.09,459.77 L466.39,459.29 L467.68,458.80 L468.97,458.29 L470.27,457.77 L471.56,457.23 L472.85,456.69 L474.15,456.13 L475.44,455.55 L476.73,454.96 L478.02,454.36 L479.32,453.75 L480.61,453.12 L481.90,452.48 L483.20,451.83 L484.49,451.16 L485.78,450.48 L487.07,449.79 L488.37,449.08 L489.66,448.36 L490.95,447.63 L492.25,446.88 L493.54,446.12 L494.83,445.35 L496.12,444.56 L497.42,443.76 L498.71,442.95 L500.00,442.12 L501.30,441.28 L502.59,440.43 L503.88,439.56 L505.17,438.68 L506.47,437.79 L507.76,436.88 L509.05,435.96 L510.35,435.03 L511.64,434.08 L512.93,433.12 L514.22,432.15 L515.52,431.17 L516.81,430.17 L518.10,429.15 L519.40,428.13 L520.69,427.09 L521.98,426.04 L523.27,424.97 L524.57,423.89 L525.86,422.80 L527.15,421.69 L528.45,420.57 L529.74,419.44 L531.03,418.30 L532.33,417.14 L533.62,415.97 L534.91,414.78 L536.20,413.58 L537.50,412.37 L538.79,411.14 L540.08,409.91 L541.38,408.65 L542.67,407.39 L543.96,406.11 L545.25,404.82 L546.55,403.51 L547.84,402.20 L549.13,400.86 L550.43,399.52 L551.72,398.16 L553.01,396.79 L554.30,395.40 L555.60,394.01 L556.89,392.59 L558.18,391.17 L559.48,389.73 L560.77,388.28 L562.06,386.82 L563.35,385.34 L564.65,383.85 L565.94,382.34 L567.23,380.83 L568.53,379.29 L569.82,377.75 L571.11,376.19 L572.40,374.62 L573.70,373.04 L574.99,371.44 L576.28,369.83 L577.58,368.21 L578.87,366.57 L580.16,364.92 L581.45,363.25 L582.75,361.58 L584.04,359.89 L585.33,358.18 L586.63,356.46 L587.92,354.73 L589.21,352.99 L590.51,351.23 L591.80,349.46 L593.09,347.68 L594.38,345.88 L595.68,344.07 L596.97,342.25 L598.26,340.41 L599.56,338.56 L600.85,336.70 L602.14,334.82 L603.43,332.93 L604.73,331.03 L606.02,329.11 L607.31,327.18 L608.61,325.24 L609.90,323.28 L611.19,321.31 L612.48,319.33 L613.78,317.34 L615.07,315.33 L616.36,313.30 L617.66,311.27 L618.95,309.22 L620.24,307.16 L621.53,305.08 L622.83,302.99 L624.12,300.89 L625.41,298.77 L626.71,296.64 L628.00,294.50 L629.29,292.34 L630.58,290.18 L631.88,287.99 L633.17,285.80 L634.46,283.59 L635.76,281.37 L637.05,279.13 L638.34,276.88 L639.63,274.62 L640.93,272.35 L642.22,270.06 L643.51,267.75 L644.81,265.44 L646.10,263.11 L647.39,260.77 L648.68,258.41 L649.98,256.05 L651.27,253.66 L652.56,251.27 L653.86,248.86 L655.15,246.44 L656.44,244.00 L657.74,241.56 L659.03,239.10 L660.32,236.62 L661.61,234.13 L662.91,231.63 L664.20,229.12 L665.49,226.59 L666.79,224.05 L668.08,221.49 L669.37,218.93 L670.66,216.34 L671.96,213.75 L673.25,211.14 L674.54,208.52 L675.84,205.89 L677.13,203.24 L678.42,200.58 L679.71,197.90 L681.01,195.22 L682.30,192.52" stroke="#00bfbf" stroke-dasharray="4.6 3.43"/>
</g>
<g font-family="Liberation Sans, Arial, sans-serif" font-size="24" fill="#000">
<text transform="translate(57.63 524.0) scale(1 1.05)">0</text>
<text transform="translate(171.22 524.0) scale(1 1.05)">0.2</text>
<text transform="translate(294.82 524.0) scale(1 1.05)">0.4</text>
<text transform="translate(418.42 524.0) scale(1 1.05)">0.6</text>
<text transform="translate(542.02 524.0) scale(1 1.05)">0.8</text>
<text transform="translate(675.63 524.0) scale(1 1.05)"><tspan>1</tspan></text>
<text transform="translate(-0.50 118.10) scale(1 1.05)">-0.05</text>
<text transform="translate(12.84 201.45) scale(1 1.05)">-0.<tspan dx="0.79">1</tspan></text>
<text transform="translate(-0.50 284.80) scale(1 1.05)">-0.<tspan dx="0.79">1</tspan><tspan dx="-0.79">5</tspan></text>
<text transform="translate(12.84 368.15) scale(1 1.05)">-0.2</text>
<text transform="translate(-0.50 451.50) scale(1 1.05)">-0.25</text>
<text transform="translate(364.7 523.6) scale(1 1.05)" font-size="26.4">t</text>
</g>
<rect x="260.0" y="1.2" width="256.4" height="278.8" fill="#fff" stroke="#262626" stroke-width="1.3"/>
<g font-family="Liberation Sans, Arial, sans-serif" font-size="21.9" fill="#000">
<path d="M265,17.00 H305.8" stroke="#0000ff" stroke-width="4.4" fill="none"/>
<text transform="translate(309.3 24.70)">Exact solution,[0,0.5)</text>
<path d="M265,44.54 H305.8" stroke="#0072bd" stroke-width="4.4" fill="none"/>
<text transform="translate(309.3 53.44)">Exact solution,[0.5,<tspan>1</tspan>]</text>
<path d="M265,72.08 H305.8" stroke="#ff0000" stroke-width="4.4" fill="none" stroke-dasharray="16.8 15.46"/>
<text transform="translate(321.9 80.98) scale(1 1.06)">=0.8,[0,0.5)</text>
<text transform="translate(307.6 81.88) scale(1.22 1)" font-family="'Noto Serif CJK SC', 'Liberation Serif', serif" font-weight="300" font-style="italic" font-size="20.6">γ</text>
<path d="M265,99.62 H305.1" stroke="#ff0000" stroke-width="4.4" fill="none" stroke-dasharray="4.6 3.43"/>
<text transform="translate(321.9 108.92) scale(1 1.06)">=0.8,[0.5,<tspan>1</tspan>]</text>
<text transform="translate(307.6 109.82) scale(1.22 1)" font-family="'Noto Serif CJK SC', 'Liberation Serif', serif" font-weight="300" font-style="italic" font-size="20.6">γ</text>
<path d="M265,127.16 H305.8" stroke="#00ff00" stroke-width="4.4" fill="none" stroke-dasharray="16.8 15.46"/>
<text transform="translate(321.9 135.76) scale(1 1.06)">=0.85,[0,0.5)</text>
<text transform="translate(307.6 136.66) scale(1.22 1)" font-family="'Noto Serif CJK SC', 'Liberation Serif', serif" font-weight="300" font-style="italic" font-size="20.6">γ</text>
<path d="M265,154.70 H305.1" stroke="#00ff00" stroke-width="4.4" fill="none" stroke-dasharray="4.6 3.43"/>
<text transform="translate(321.9 164.00) scale(1 1.06)">=0.85,[0.5,<tspan>1</tspan>]</text>
<text transform="translate(307.6 164.90) scale(1.22 1)" font-family="'Noto Serif CJK SC', 'Liberation Serif', serif" font-weight="300" font-style="italic" font-size="20.6">γ</text>
<path d="M265,182.24 H305.8" stroke="#ff00ff" stroke-width="4.4" fill="none" stroke-dasharray="16.8 15.46"/>
<text transform="translate(321.9 190.24) scale(1 1.06)">=0.9,[0,0.5)</text>
<text transform="translate(307.6 191.14) scale(1.22 1)" font-family="'Noto Serif CJK SC', 'Liberation Serif', serif" font-weight="300" font-style="italic" font-size="20.6">γ</text>
<path d="M265,209.78 H305.1" stroke="#ff00ff" stroke-width="4.4" fill="none" stroke-dasharray="4.6 3.43"/>
<text transform="translate(321.9 218.78) scale(1 1.06)">=0.9,[0.5,<tspan>1</tspan>]</text>
<text transform="translate(307.6 219.68) scale(1.22 1)" font-family="'Noto Serif CJK SC', 'Liberation Serif', serif" font-weight="300" font-style="italic" font-size="20.6">γ</text>
<path d="M265,237.32 H305.8" stroke="#00bfbf" stroke-width="4.4" fill="none" stroke-dasharray="16.8 15.46"/>
<text transform="translate(321.9 245.32) scale(1 1.06)">=0.95,[0,0.5)</text>
<text transform="translate(307.6 246.22) scale(1.22 1)" font-family="'Noto Serif CJK SC', 'Liberation Serif', serif" font-weight="300" font-style="italic" font-size="20.6">γ</text>
<path d="M265,264.86 H305.1" stroke="#00bfbf" stroke-width="4.4" fill="none" stroke-dasharray="4.6 3.43"/>
<text transform="translate(321.9 273.06) scale(1 1.06)">=0.95,[0.5,<tspan>1</tspan>]</text>
<text transform="translate(307.6 273.96) scale(1.22 1)" font-family="'Noto Serif CJK SC', 'Liberation Serif', serif" font-weight="300" font-style="italic" font-size="20.6">γ</text>
</g>
<path d="M676.65,520.82H681.11V524.70H676.65Z M684.33,520.82H688.60V524.70H684.33Z M42.67,198.27H47.13V202.15H42.67Z M50.35,198.27H54.62V202.15H50.35Z M29.32,281.62H33.78V285.50H29.32Z M37.00,281.62H41.27V285.50H37.00Z M495.21,50.50H499.29V54.14H495.21Z M502.33,50.50H506.25V54.14H502.33Z M414.70,105.89H418.79V109.62H414.70Z M421.82,105.89H425.74V109.62H421.82Z M426.88,160.97H430.97V164.70H426.88Z M434.00,160.97H437.92V164.70H434.00Z M414.70,215.75H418.79V219.48H414.70Z M421.82,215.75H425.74V219.48H421.82Z M426.88,270.03H430.97V273.76H426.88Z M434.00,270.03H437.92V273.76H434.00Z" fill="#fff"/>
</g>
</svg>
</body></html>
